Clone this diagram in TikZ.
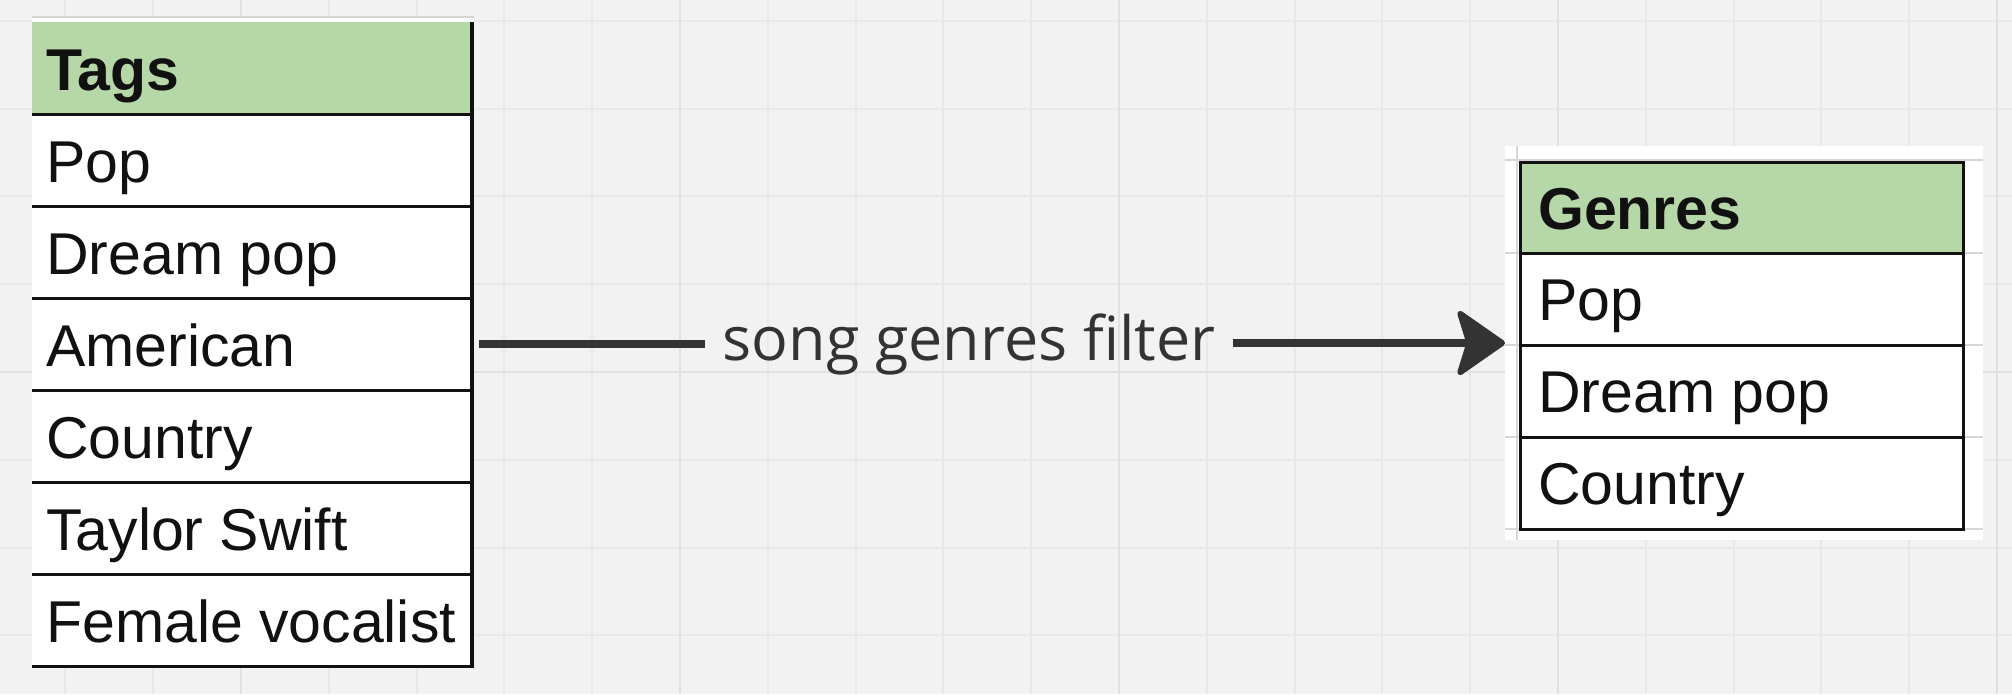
\documentclass[tikz,border=0pt]{standalone}
\usepackage{fontspec}
\setmainfont{Liberation Sans}
\newfontfamily\opensans{Open Sans}
\usetikzlibrary{arrows.meta}
\definecolor{bg}{HTML}{F2F2F2}
\definecolor{gridminor}{HTML}{E8E8E8}
\definecolor{gridmajor}{HTML}{E1E1E1}
\definecolor{hdr}{HTML}{B6D7A8}
\definecolor{ink}{HTML}{333333}
\definecolor{sheetline}{HTML}{D6D6D6}
\definecolor{cellink}{HTML}{111111}
\begin{document}
\begin{tikzpicture}[x=1pt,y=-1pt,
  cell/.style={rectangle, inner sep=0pt, outer sep=0pt, anchor=north west, fill=white, minimum width=#1},
  hcell/.style={cell=#1, fill=hdr},
  celltext/.style={anchor=base west, inner sep=0pt, font=\fontsize{59}{59}\selectfont, text=cellink},
  hdrtext/.style={anchor=base west, inner sep=0pt, font=\fontsize{59}{59}\selectfont\bfseries, text=cellink},
  rule/.style={line width=3pt, cellink},
  conn/.style={line width=8.5pt, ink},
  lbltext/.style={font=\opensans\fontsize{61}{61}\selectfont, text=ink, inner xsep=17pt, inner ysep=0pt, anchor=base},
]
\useasboundingbox (0,0) rectangle (2012,694);
\fill[bg] (0,0) rectangle (2012,694);
% background grid
\foreach \i in {0,...,22} {\draw[gridminor, line width=2pt] ({65.4+87.8*\i},0) -- ({65.4+87.8*\i},694);}
\foreach \i in {0,...,7} {\draw[gridminor, line width=2pt] (0,{20.8+87.8*\i}) -- (2012,{20.8+87.8*\i});}
\foreach \x in {241,680,1119,1558,1997} {\draw[gridmajor, line width=2.5pt] (\x,0) -- (\x,694);}
\draw[gridmajor, line width=2.5pt] (0,372) -- (2012,372);

% ---------- Tags table ----------
\fill[white] (32,16) rectangle (474,22);
\draw[sheetline, line width=2pt] (32,17) -- (474,17);
\node[hcell=438pt, minimum height=92pt] (th) at (32,22) {};
\node[cell=438pt, minimum height=92pt] (t1) at (32,114) {};
\node[cell=438pt, minimum height=92pt] (t2) at (32,206) {};
\node[cell=438pt, minimum height=92pt] (t3) at (32,298) {};
\node[cell=438pt, minimum height=92pt] (t4) at (32,390) {};
\node[cell=438pt, minimum height=92pt] (t5) at (32,482) {};
\node[cell=438pt, minimum height=92pt] (t6) at (32,574) {};
\foreach \n in {th,t1,t2,t3,t4,t5,t6} {\draw[rule] (\n.south west) -- ([xshift=4pt]\n.south east);}
\draw[rule, line width=4pt] ([xshift=2pt]th.north east) -- ([xshift=2pt,yshift=-1.5pt]t6.south east);
\node[hdrtext] at (46,{22+68}) {Tags};
\node[celltext] at (46,{114+68}) {Pop};
\node[celltext] at (46,{206+68}) {Dream pop};
\node[celltext] at (46,{298+68}) {American};
\node[celltext] at (46,{390+68}) {Country};
\node[celltext] at (46,{482+68}) {Taylor Swift};
\node[celltext] at (46,{574+68}) {Female vocalist};

% ---------- Genres table ----------
\node[rectangle, inner sep=0pt, outer sep=0pt, fill=white, minimum width=478pt, minimum height=394pt, anchor=north west] (gbg) at (1505,146) {};
\draw[sheetline, line width=1.5pt] (1517,146) -- (1517,540);
\draw[sheetline, line width=1.5pt] (1505,160) -- (1983,160);
\foreach \y in {253,345,437,529} {\draw[sheetline, line width=1.5pt] (1505,\y) -- (1983,\y);}
\node[hcell=443pt, minimum height=91.75pt] (gh) at (1520,162) {};
\node[cell=443pt, minimum height=91.75pt] (g1) at (1520,253.75) {};
\node[cell=443pt, minimum height=91.75pt] (g2) at (1520,345.5) {};
\node[cell=443pt, minimum height=91.75pt] (g3) at (1520,437.25) {};
\draw[rule] (gh.north west) rectangle (g3.south east);
\foreach \n in {gh,g1,g2} {\draw[rule] (\n.south west) -- (\n.south east);}
\node[hdrtext] at (1538,{162+67}) {Genres};
\node[celltext] at (1538,{253.75+67}) {Pop};
\node[celltext] at (1538,{345.5+67}) {Dream pop};
\node[celltext] at (1538,{437.25+67}) {Country};

% ---------- connector ----------
\node[lbltext] (lbl) at (969,360) {song genres filter};
\draw[conn] ([xshift=9pt]t3.east) -- (t3.east -| lbl.west);
\draw[conn, -{Stealth[length=52pt, width=72pt, inset=11pt, round, line width=6pt]}] (lbl.east |- gbg.west) -- (gbg.west);
\end{tikzpicture}
\end{document}
